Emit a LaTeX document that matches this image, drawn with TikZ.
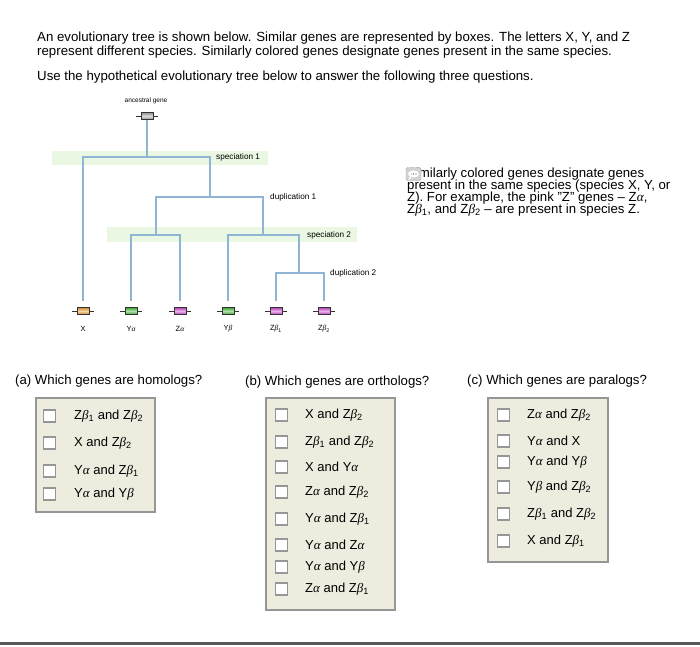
\documentclass[tikz,border=0pt]{standalone}
\usepackage{fontspec}
\setmainfont{Liberation Sans}
\newfontfamily\grkfont{Liberation Serif}
\newcommand{\galpha}{{\grkfont\itshape α}}
\newcommand{\gbeta}{{\grkfont\itshape β}}
\newcommand{\tightlines}{\lineskiplimit=-20pt\relax\lineskip=0pt\relax}
\definecolor{treeblue}{RGB}{143,180,212}
\definecolor{bandgreen}{RGB}{234,247,226}
\definecolor{geneorange}{RGB}{240,160,50}
\definecolor{genegreen}{RGB}{70,190,60}
\definecolor{genepink}{RGB}{210,80,210}
\definecolor{genegray}{RGB}{170,170,170}
\definecolor{panelfill}{RGB}{238,236,222}
\definecolor{panelborder}{RGB}{150,150,150}
\tikzset{
  branch/.style={draw=treeblue, line width=2.4pt},
  band/.style={fill=bandgreen, draw=none},
  gene/.style={draw=black!80, line width=0.7pt, minimum width=12pt, minimum height=7pt, inner sep=0pt,
    top color=#1!85!black, bottom color=#1!85!black, middle color=#1!45!white},
  stub/.style={draw=black!80, line width=0.8pt},
  leaflabel/.style={font=\fontsize{7.5}{8}\selectfont, inner sep=0pt},
  anclabel/.style={font=\fontsize{6.5}{7}\selectfont, inner sep=0pt},
  eventlabel/.style={font=\fontsize{8.2}{9}\selectfont, anchor=west, inner sep=0pt},
  toptext/.style={font=\fontsize{13.25}{13.5}\selectfont, anchor=west, inner sep=0pt},
  question/.style={font=\fontsize{13.2}{14}\selectfont, anchor=west, inner sep=0pt},
  panel/.style={fill=panelfill, draw=panelborder, line width=1.3pt},
  chk/.style={draw=panelborder, fill=white, line width=1.3pt, minimum size=12pt, inner sep=0pt},
  item/.style={font=\fontsize{13}{13.5}\selectfont, anchor=west, inner sep=0pt},
  notetext/.style={font=\fontsize{13.2}{12}\selectfont\tightlines, anchor=north west, align=left, inner sep=0pt},
}
\begin{document}
\begin{tikzpicture}[x=1pt,y=-1pt]
\useasboundingbox (0,0) rectangle (700,646);
\fill[white] (0,0) rectangle (700,646);

% header text
\node[toptext] (h1) at (37,38.5) {An evolutionary tree is shown below. Similar genes are represented by boxes. The letters X, Y, and Z};
\node[toptext] (h2) at (37,51.8) {represent different species. Similarly colored genes designate genes present in the same species.};
\node[toptext] (h3) at (37,76.8) {Use the hypothetical evolutionary tree below to answer the following three questions.};

% bands
\fill[band] (52,151) rectangle (268,165);
\fill[band] (107,227) rectangle (357,242);

% ancestral gene
\node[anclabel] (anclab) at (146,101) {ancestral gene};
\node[gene=genegray] (anc) at (147,116) {};
\draw[stub] (anc.west) -- ++(-4.5,0);
\draw[stub] (anc.east) -- ++(4.5,0);

% branch points
\coordinate (s1) at (147,157);
\coordinate (d1) at (210,197);
\coordinate (s2L) at (156,235);
\coordinate (s2R) at (263,235);
\coordinate (d2) at (299,273);
\coordinate (eX) at (83,301);
\coordinate (eYa) at (131,301);
\coordinate (eZa) at (180,301);
\coordinate (eYb) at (228,301);
\coordinate (eZb1) at (276,301);
\coordinate (eZb2) at (324,301);

\draw[branch] (anc.south) -- (s1);
\draw[branch] (eX) |- (s1) -| (d1);
\draw[branch] (s2L) |- (d1) -| (s2R);
\draw[branch] (eYa) |- (s2L) -| (eZa);
\draw[branch] (eYb) |- (s2R) -| (d2);
\draw[branch] (eZb1) |- (d2) -| (eZb2);

% event labels
\node[eventlabel] (ls1) at (216,157) {speciation 1};
\node[eventlabel] (ld1) at (270,197) {duplication 1};
\node[eventlabel] (ls2) at (307,235) {speciation 2};
\node[eventlabel] (ld2) at (330,273) {duplication 2};

% leaf genes
\foreach \nm/\x/\c/\lab in {X/83/geneorange/{X}, Ya/131/genegreen/{Y\galpha}, Za/180/genepink/{Z\galpha}, Yb/228/genegreen/{Y\gbeta}, Zb1/276/genepink/{Z\gbeta\textsubscript{1}}, Zb2/324/genepink/{Z\gbeta\textsubscript{2}}}{
  \node[gene=\c] (g\nm) at (\x,311) {};
  \draw[stub] (g\nm.west) -- ++(-4.5,0);
  \draw[stub] (g\nm.east) -- ++(4.5,0);
  \node[leaflabel] (l\nm) at (\x,329) {\lab};
}

% side note
\node[notetext] (note) at (407,167.5)
 {Similarly colored genes designate genes\\present in the same species (species X, Y, or\\Z). For example, the pink "Z" genes -- Z\galpha,\\Z\gbeta\textsubscript{1}, and Z\gbeta\textsubscript{2} -- are present in species Z.};
\node[draw=gray!70, fill=gray!35, rounded corners=1.5pt, minimum width=15pt, minimum height=13pt, inner sep=0pt] (icon) at (413.5,174) {};
\fill[white] (icon.center) ellipse [x radius=5.5pt, y radius=3.6pt];
\fill[white] ([xshift=-3pt,yshift=-2.5pt]icon.center) -- ++(-2.5,3.5) -- ++(3,-1.5) -- cycle;
\foreach \dx in {-2.4,0,2.4} \fill[gray!60!black] ([xshift=\dx pt]icon.center) circle (0.6pt);

% questions
\node[question] (qa) at (15,381) {(a) Which genes are homologs?};
\node[question] (qb) at (245,382) {(b) Which genes are orthologs?};
\node[question] (qc) at (467,381) {(c) Which genes are paralogs?};

% panels
\draw[panel] (36,398) rectangle (155,512);
\draw[panel] (266,398) rectangle (395,610);
\draw[panel] (488,398) rectangle (608,562);

\foreach \y/\t [count=\i] in {416/{Z\gbeta\textsubscript{1} and Z\gbeta\textsubscript{2}}, 443/{X and Z\gbeta\textsubscript{2}}, 471/{Y\galpha{} and Z\gbeta\textsubscript{1}}, 494/{Y\galpha{} and Y\gbeta}}{
  \node[chk] (ca\i) at (49.5,\y) {};
  \node[item] (ta\i) at (74,\y) {\t};
}
\foreach \y/\t [count=\i] in {415/{X and Z\gbeta\textsubscript{2}}, 442/{Z\gbeta\textsubscript{1} and Z\gbeta\textsubscript{2}}, 467/{X and Y\galpha}, 492/{Z\galpha{} and Z\gbeta\textsubscript{2}}, 519/{Y\galpha{} and Z\gbeta\textsubscript{1}}, 545/{Y\galpha{} and Z\galpha}, 567/{Y\galpha{} and Y\gbeta}, 589/{Z\galpha{} and Z\gbeta\textsubscript{1}}}{
  \node[chk] (cb\i) at (281.5,\y) {};
  \node[item] (tb\i) at (305,\y) {\t};
}
\foreach \y/\t [count=\i] in {415/{Z\galpha{} and Z\gbeta\textsubscript{2}}, 441/{Y\galpha{} and X}, 462/{Y\galpha{} and Y\gbeta}, 487/{Y\gbeta{} and Z\gbeta\textsubscript{2}}, 514/{Z\gbeta\textsubscript{1} and Z\gbeta\textsubscript{2}}, 541/{X and Z\gbeta\textsubscript{1}}}{
  \node[chk] (cc\i) at (503.5,\y) {};
  \node[item] (tc\i) at (527,\y) {\t};
}

% bottom rule
\coordinate (rl) at (0,643.5);
\coordinate (rr) at (700,643.5);
\draw[line width=2.2pt, black!65] (rl) -- (rr);
\end{tikzpicture}
\end{document}
